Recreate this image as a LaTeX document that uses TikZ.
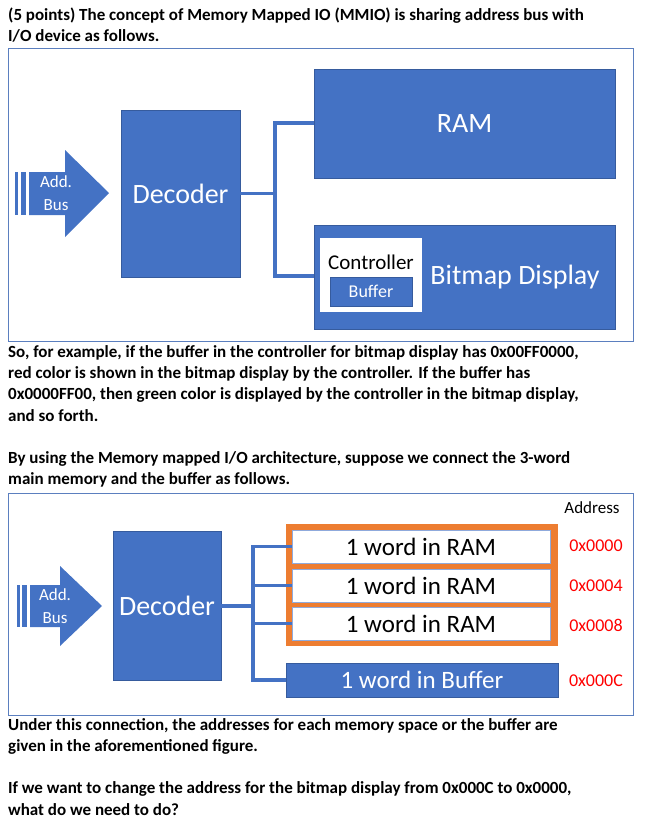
\documentclass[tikz,border=0pt]{standalone}
\usepackage{fontspec}
\setmainfont{Carlito}
\definecolor{mblue}{HTML}{4472C4}
\definecolor{morange}{HTML}{ED7D31}
\definecolor{frame}{HTML}{5B7FBF}
\begin{document}
\begin{tikzpicture}[x=1pt,y=-1pt,
  blk/.style={fill=mblue,draw=mblue!80!black,line width=0.5pt},
  bus/.style={draw=mblue,line width=3.5pt},
  para/.style={anchor=west,font=\fontsize{17}{19}\selectfont\bfseries,inner sep=0pt},
  wt/.style={text=white},
  word/.style={fill=white,draw=mblue!60,line width=0.6pt,minimum width=258pt,minimum height=33pt,inner sep=0pt,font=\fontsize{25}{28}\selectfont},
  addr/.style={text=red,font=\fontsize{18}{21}\selectfont}]
\useasboundingbox (0,0) rectangle (647,835);
\fill[white] (0,0) rectangle (647,835);

% texts
\node[para] at (8,16) {(5 points) The concept of Memory Mapped IO (MMIO) is sharing address bus with};
\node[para] at (8,36) {I/O device as follows.};
\node[para] at (8,353) {So, for example, if the buffer in the controller for bitmap display has 0x00FF0000,};
\node[para] at (8,374) {red color is shown in the bitmap display by the controller. If the buffer has};
\node[para] at (8,395) {0x0000FF00, then green color is displayed by the controller in the bitmap display,};
\node[para] at (8,416) {and so forth.};
\node[para] at (8,459) {By using the Memory mapped I/O architecture, suppose we connect the 3-word};
\node[para] at (8,480) {main memory and the buffer as follows.};
\node[para] at (8,726) {Under this connection, the addresses for each memory space or the buffer are};
\node[para] at (8,747) {given in the aforementioned figure.};
\node[para] at (8,789) {If we want to change the address for the bitmap display from 0x000C to 0x0000,};
\node[para] at (8,810) {what do we need to do?};

% ---------- figure 1
\draw[frame,line width=0.8pt] (8,48) rectangle (633,341);
\fill[mblue] (15,172) rectangle (18,215);
\fill[mblue] (21,172) rectangle (26,215);
\fill[mblue] (29,172) -- (65,172) -- (65,150) -- (109,193) -- (65,237) -- (65,215) -- (29,215) -- cycle;
\node[wt,align=center,font=\fontsize{17}{23}\selectfont] (bus1) at (56,193) {Add.\\Bus};
\node[blk,minimum width=119pt,minimum height=167pt,inner sep=0pt,wt,font=\fontsize{28}{31}\selectfont] (dec1) at (180.5,193.5) {Decoder};
\node[blk,minimum width=301pt,minimum height=109pt,inner sep=0pt] (ram) at (464.5,123.5) {};
\node[wt,font=\fontsize{28}{31}\selectfont] at (ram) {RAM};
\node[blk,minimum width=301pt,minimum height=104pt,inner sep=0pt] (bmp) at (464.5,277) {};
\node[fill=white,minimum width=102pt,minimum height=74pt,inner sep=0pt] (ctl) at (371,275) {};
\node[font=\fontsize{21}{24}\selectfont] at (371,262) {Controller};
\node[blk,minimum width=82pt,minimum height=29pt,inner sep=0pt,wt,font=\fontsize{18}{21}\selectfont] (buf) at (371,291.5) {Buffer};
\node[wt,font=\fontsize{28}{31}\selectfont] at (515,277) {Bitmap Display};
\coordinate (j1) at (275,193.5);
\draw[bus] (dec1.east) -- (j1);
\draw[bus] (ram.west |- 0,123) -| (j1) |- (bmp.west |- 0,276);

% ---------- figure 2
\draw[frame,line width=0.8pt] (8,493) rectangle (633,715);
\fill[mblue] (17,585) rectangle (20,627);
\fill[mblue] (22,585) rectangle (27,627);
\fill[mblue] (30,585) -- (60,585) -- (60,566) -- (102,606) -- (60,646) -- (60,627) -- (30,627) -- cycle;
\node[wt,align=center,font=\fontsize{17}{23}\selectfont] (bus2) at (55,606) {Add.\\Bus};
\node[blk,minimum width=108pt,minimum height=149pt,inner sep=0pt,wt,font=\fontsize{28}{31}\selectfont] (dec2) at (167,605.5) {Decoder};
\fill[morange] (286,524) rectangle (558,646);
\node[word] (w0) at (421,546.5) {1 word in RAM};
\node[word] (w1) at (421,585.5) {1 word in RAM};
\node[word] (w2) at (421,623.5) {1 word in RAM};
\node[blk,minimum width=272pt,minimum height=34pt,inner sep=0pt,wt,font=\fontsize{25}{28}\selectfont] (wb) at (422,680) {1 word in Buffer};
\node[font=\fontsize{17}{20}\selectfont] at (592,508) {Address};
\node[addr] at (596,546) {0x0000};
\node[addr] at (596,586) {0x0004};
\node[addr] at (596,625) {0x0008};
\node[addr] at (596,681) {0x000C};
\coordinate (j2) at (253,606);
\draw[bus] (dec2.east |- j2) -- (j2);
\draw[bus] (w0.west) -| (j2) |- (wb.west);
\draw[bus] (j2 |- w1.west) -- (w1.west);
\draw[bus] (j2 |- w2.west) -- (w2.west);
\end{tikzpicture}
\end{document}
